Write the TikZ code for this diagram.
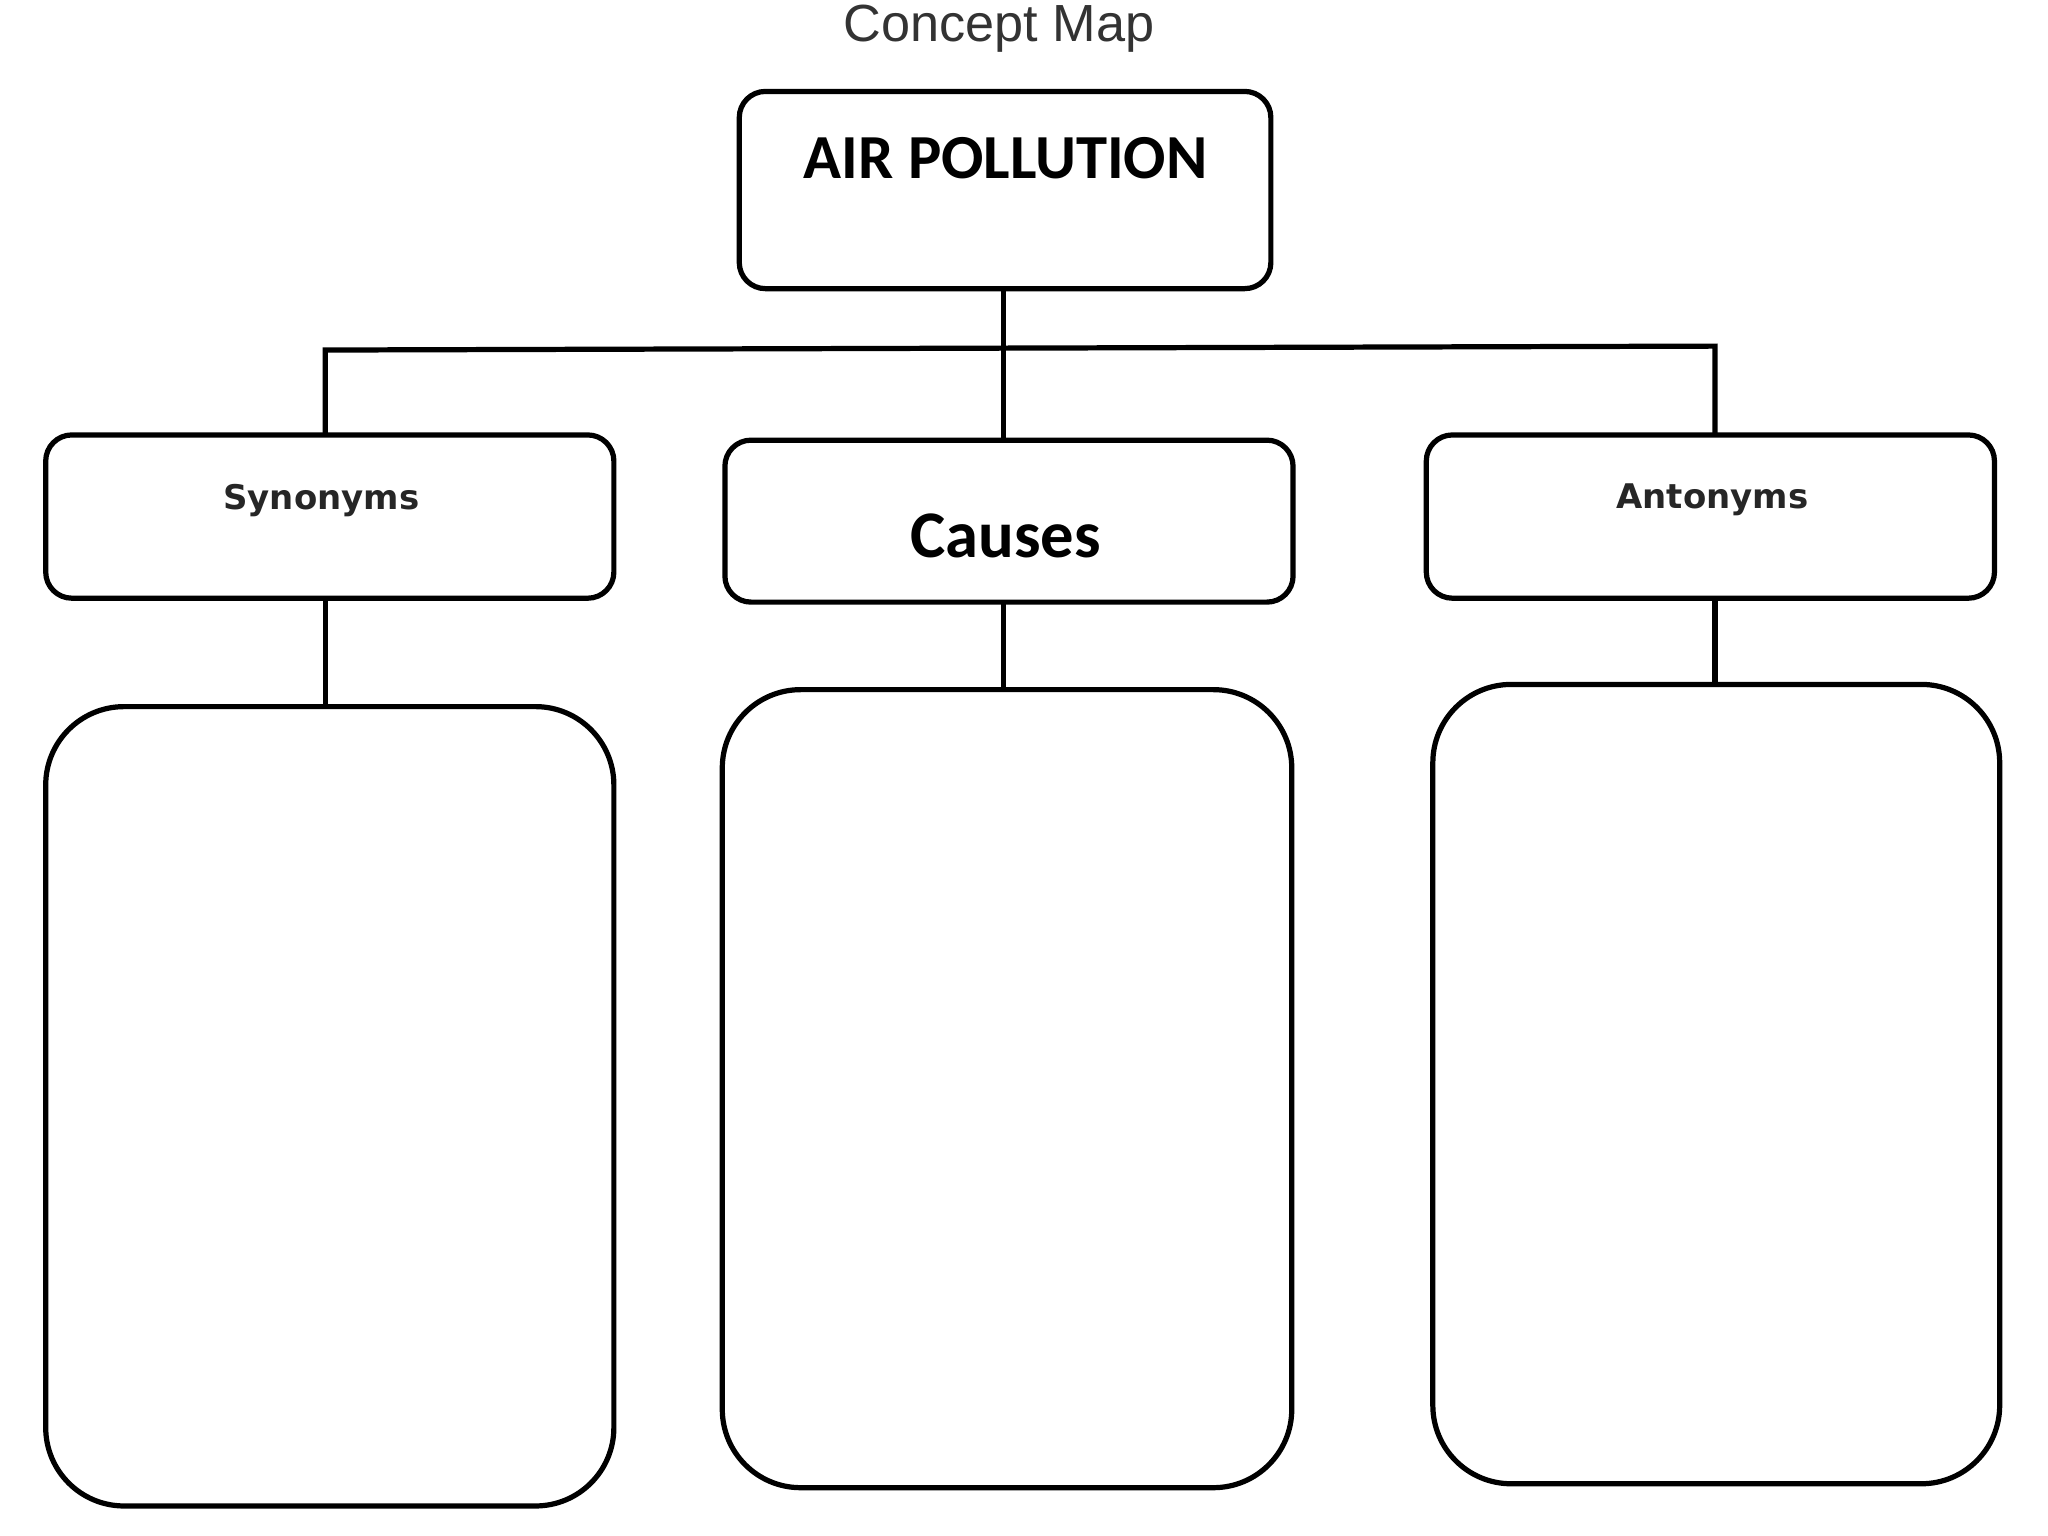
\documentclass[tikz,border=0pt]{standalone}
\usepackage{fontspec}
\setmainfont{Carlito}
\newfontfamily\lsans{Liberation Sans}
\newfontfamily\dsans{DejaVu Sans}
\begin{document}
\begin{tikzpicture}[x=0.5pt,y=-0.5pt,
  bx/.style={draw=black,line width=2pt,rounded corners=10pt},
  big/.style={draw=black,line width=2pt,rounded corners=30pt},
  ln/.style={draw=black,line width=2pt}]
\useasboundingbox (0,0) rectangle (1568,1176);
\node[text=black!80,font=\lsans\fontsize{20}{23}\selectfont,inner sep=1pt] (title) at (765,22) {Concept Map};
\draw[bx] (566,70) rectangle (973,221);
\coordinate (topb) at (768,221);
\node[font=\bfseries\fontsize{24}{28}\selectfont] (air) at (770,121) {AIR POLLUTION};
\draw[bx] (35,333) rectangle (470,458);
\draw[bx] (555,337) rectangle (990,461);
\draw[bx] (1092,333) rectangle (1527,458);
\node[font=\dsans\bfseries\fontsize{13}{15}\selectfont,text=black!85] (syn) at (246,383) {Synonyms};
\node[font=\bfseries\fontsize{25.5}{30}\selectfont] (cau) at (770,410) {Causes};
\node[font=\dsans\bfseries\fontsize{13}{15}\selectfont,text=black!85] (ant) at (1311,383) {Antonyms};
\draw[big] (35,541) rectangle (470,1153);
\draw[big] (553,528) rectangle (989,1139);
\draw[big] (1097,524) rectangle (1531,1136);
\coordinate (hl) at (249,268);
\coordinate (hr) at (1313,265);
\draw[ln] (topb) -- (768,337);
\draw[ln] (249,333) -- (hl) -- (hr) -- (1313,333);
\draw[ln] (249,458) -- (249,541);
\draw[ln] (768,461) -- (768,528);
\draw[ln] (1313,458) -- (1313,524);
\end{tikzpicture}
\end{document}
